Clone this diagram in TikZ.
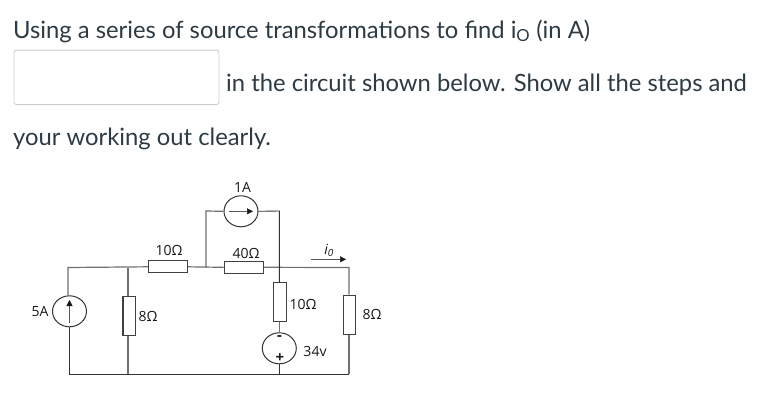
\documentclass[tikz,border=0pt]{standalone}
\usepackage{fontspec}
\setmainfont{Lato}
\newfontfamily\circfont{Open Sans}
\usetikzlibrary{shapes.geometric,arrows.meta}
\definecolor{txt}{HTML}{2D3B45}
\definecolor{wire}{HTML}{707070}
\definecolor{boxline}{HTML}{C7CDD1}
\tikzset{
  x=1pt,y=-1pt,
  para/.style={anchor=base west,inner sep=0pt,text=txt,font=\fontsize{23.8}{28}\selectfont},
  hres/.style={draw=black!75,line width=1.1pt,fill=white,rectangle,minimum width=39pt,minimum height=12pt,inner sep=0pt},
  vres/.style={draw=black!75,line width=1.1pt,fill=white,rectangle,minimum width=12.5pt,minimum height=39pt,inner sep=0pt},
  src/.style={draw=black!80,line width=1pt,fill=white,ellipse,minimum width=34pt,minimum height=31pt,inner sep=0pt},
  lbl/.style={inner sep=0pt,text=black!90,font=\circfont\fontsize{14}{16}\selectfont},
  sgn/.style={inner sep=0pt,text=black!90,font=\circfont\bfseries\fontsize{15}{16}\selectfont},
  wr/.style={wire,line width=1.2pt},
  wb/.style={black!80,line width=0.9pt},
  arr/.style={black!65,line width=0.5pt,-{Triangle[length=6pt,width=6pt,color=black!90]}}
}
\begin{document}
\begin{tikzpicture}
\useasboundingbox[fill=white] (0,0) rectangle (765,418);
% text
\node[para] (t1) at (13,38) {Using a series of source transformations to find i\textsubscript{O} (in A)};
\node[draw=boxline,line width=0.8pt,rounded corners=2.5pt,fill=white,minimum width=205pt,minimum height=54.5pt,inner sep=0pt,anchor=north west] (answer) at (13.5,49.7) {};
\node[para] (t2) at (226,91) {in the circuit shown below. Show all the steps and};
\node[para] (t3) at (13,145) {your working out clearly.};
% junctions and corners
\coordinate (tl) at (68,267.5);
\coordinate (j8t) at (128,267.5);
\coordinate (jl) at (206,267.5);
\coordinate (j10t) at (279.3,267.5);
\coordinate (tr) at (349,267.5);
\coordinate (bl) at (69.5,374);
\coordinate (j8b) at (128,374);
\coordinate (j10b) at (279.3,374);
\coordinate (br) at (349,374);
\coordinate (ul) at (206,211);
\coordinate (ur) at (279.3,211);
\coordinate (ia) at (311,259.3);
\coordinate (ib) at (346,259.3);
% components
\node[src] (s5) at (69.5,311.3) {};
\node[src] (s1) at (241,211.3) {};
\node[src] (s34) at (279.3,348.3) {};
\node[hres] (r10a) at (168,266.8) {};
\node[hres] (r40) at (243.7,267.3) {};
\node[vres] (r8a) at (129.2,316) {};
\node[vres] (r10b) at (280,302.2) {};
\node[vres] (r8b) at (349.3,314.7) {};
% wires
\draw[wr] (s5.north -| tl) -- (tl) -- (r10a.west);
\draw[wr] (r10a.east) -- (r40.west);
\draw[wr] (r40.east) -- (tr) -- (r8b.north -| tr);
\draw[wr] (r8b.south -| tr) -- (br);
\draw[wr] (j8t) -- (r8a.north -| j8t);
\draw[wr] (r8a.south -| j8t) -- (j8b);
\draw[wr] (jl) -- (ul) -- (s1.west);
\draw[wr] (r10b.south -| j10t) -- (s34.north);
\draw[wb] (s5.south) -- (bl) -- (br);
\draw[wb] (s1.east) -- (ur) -- (r10b.north -| ur);
\draw[wb] (s34.south) -- (j10b);
% source arrows
\coordinate (s5a) at (69.5,323);
\coordinate (s5b) at (69.5,300);
\coordinate (s1a) at (229,211.3);
\coordinate (s1b) at (253,211.3);
\draw[arr] (s5a) -- (s5b);
\draw[arr] (s1a) -- (s1b);
\draw[arr] (ia) -- (ib);
% labels
\node[lbl] (l5) at (40,312) {5A};
\node[lbl] (l1) at (242.5,187) {1A};
\node[lbl] (l10a) at (169,250) {10Ω};
\node[lbl] (l40) at (246,253) {40Ω};
\node[lbl] (l8a) at (148,316.5) {8Ω};
\node[lbl] (l10b) at (303,304) {10Ω};
\node[lbl] (l8b) at (372,314) {8Ω};
\node[lbl] (l34) at (315,351) {34v};
\node[lbl] (lio) at (329,250) {\textit{i\textsubscript{0}}};
\node[sgn] (lm) at (279.5,338) {-};
\node[sgn] (lp) at (279.8,358) {+};
\end{tikzpicture}
\end{document}
